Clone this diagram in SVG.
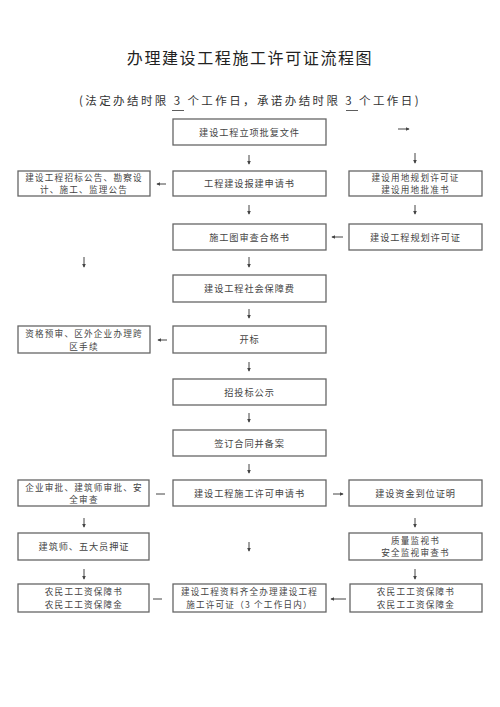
<svg xmlns="http://www.w3.org/2000/svg" width="500" height="707" viewBox="0 0 500 707">
<defs>
<marker id="ah" viewBox="0 0 6 6" refX="5" refY="3" markerWidth="4" markerHeight="4" orient="auto" markerUnits="userSpaceOnUse">
<path d="M0,0 L6,3 L0,6 z" fill="#444"/>
</marker>
<style>
.box{fill:#fff;stroke:#666;stroke-width:1.3}
.t{font-family:"Noto Sans CJK SC","Liberation Sans",sans-serif;font-size:9.2px;fill:#444;text-anchor:middle;letter-spacing:0.9px}
.t2{font-family:"Noto Sans CJK SC","Liberation Sans",sans-serif;font-size:8.6px;fill:#444;text-anchor:middle;letter-spacing:1.2px}
.ttl{font-family:"Noto Sans CJK SC","Liberation Serif",sans-serif;font-size:16px;fill:#222;text-anchor:middle;letter-spacing:1.6px}
.sub{font-family:"Noto Sans CJK SC","Liberation Serif",sans-serif;font-size:11.5px;fill:#333;text-anchor:middle;letter-spacing:2.4px}
.c{stroke:#444;stroke-width:1;fill:none}
.ca{stroke:#444;stroke-width:1;fill:none;marker-end:url(#ah)}
</style>
</defs>
<rect width="500" height="707" fill="#fff"/>
<text class="ttl" x="250" y="64">办理建设工程施工许可证流程图</text>
<text class="sub" x="250" y="105">(法定办结时限 3 个工作日，承诺办结时限 3 个工作日)</text>
<line x1="172" y1="110.5" x2="184" y2="110.5" stroke="#333" stroke-width="0.8"/>
<line x1="346" y1="110.5" x2="358" y2="110.5" stroke="#333" stroke-width="0.8"/>

<g id="n1"><rect class="box" x="173" y="119" width="153" height="26"/><text class="t" x="249.5" y="135.5">建设工程立项批复文件</text></g>
<g id="n2l"><rect class="box" x="18" y="171" width="132" height="25"/><text class="t2" x="84" y="181">建设工程招标公告、勘察设</text><text class="t2" x="84" y="192.5">计、施工、监理公告</text></g>
<g id="n2"><rect class="box" x="173" y="171" width="153" height="25"/><text class="t" x="249.5" y="187">工程建设报建申请书</text></g>
<g id="n2r"><rect class="box" x="349" y="171" width="133" height="25"/><text class="t2" x="415.5" y="181">建设用地规划许可证</text><text class="t2" x="415.5" y="192.5">建设用地批准书</text></g>
<g id="n3"><rect class="box" x="173" y="224" width="153" height="26"/><text class="t" x="249.5" y="240.5">施工图审查合格书</text></g>
<g id="n3r"><rect class="box" x="349" y="224" width="133" height="26"/><text class="t" x="415.5" y="240.5">建设工程规划许可证</text></g>
<g id="n4"><rect class="box" x="173" y="275" width="153" height="27"/><text class="t" x="249.5" y="292">建设工程社会保障费</text></g>
<g id="n5l"><rect class="box" x="18" y="326" width="132" height="27"/><text class="t2" x="84" y="337">资格预审、区外企业办理跨</text><text class="t2" x="84" y="349.5">区手续</text></g>
<g id="n5"><rect class="box" x="173" y="326" width="153" height="27"/><text class="t" x="249.5" y="343">开标</text></g>
<g id="n6"><rect class="box" x="173" y="379" width="153" height="26"/><text class="t" x="249.5" y="395.5">招投标公示</text></g>
<g id="n7"><rect class="box" x="173" y="430" width="153" height="26"/><text class="t" x="249.5" y="446.5">签订合同并备案</text></g>
<g id="n8l"><rect class="box" x="18" y="480" width="131" height="26"/><text class="t2" x="84" y="490.5">企业审批、建筑师审批、安</text><text class="t2" x="84" y="502.5">全审查</text></g>
<g id="n8"><rect class="box" x="173" y="480" width="153" height="26"/><text class="t" x="249.5" y="496.5">建设工程施工许可申请书</text></g>
<g id="n8r"><rect class="box" x="349" y="480" width="133" height="26"/><text class="t" x="415.5" y="496.5">建设资金到位证明</text></g>
<g id="n9l"><rect class="box" x="18" y="533" width="131" height="27"/><text class="t" x="84" y="550">建筑师、五大员押证</text></g>
<g id="n9r"><rect class="box" x="349" y="533" width="133" height="27"/><text class="t2" x="415.5" y="543.5">质量监视书</text><text class="t2" x="415.5" y="556">安全监视审查书</text></g>
<g id="n10l"><rect class="box" x="18" y="584" width="131" height="28"/><text class="t2" x="84" y="595">农民工工资保障书</text><text class="t2" x="84" y="608">农民工工资保障金</text></g>
<g id="n10"><rect class="box" x="173" y="584" width="153" height="28"/><text class="t2" x="249.5" y="595">建设工程资料齐全办理建设工程</text><text class="t2" x="249.5" y="608">施工许可证（3 个工作日内）</text></g>
<g id="n10r"><rect class="box" x="350" y="584" width="132" height="28"/><text class="t2" x="416" y="595">农民工工资保障书</text><text class="t2" x="416" y="608">农民工工资保障金</text></g>

<g id="connectors">
<line class="ca" x1="398" y1="129" x2="409" y2="129"/>
<line class="ca" x1="249" y1="155" x2="249" y2="164"/>
<line class="ca" x1="415" y1="153" x2="415" y2="163"/>
<line class="ca" x1="166" y1="184" x2="157" y2="184"/>
<line class="ca" x1="249" y1="205" x2="249" y2="214"/>
<line class="ca" x1="415" y1="205" x2="415" y2="214"/>
<line class="ca" x1="343" y1="237" x2="332" y2="237"/>
<line class="ca" x1="84" y1="257" x2="84" y2="267"/>
<line class="ca" x1="249" y1="257" x2="249" y2="267"/>
<line class="ca" x1="249" y1="309" x2="249" y2="318"/>
<line class="ca" x1="167" y1="340" x2="158" y2="340"/>
<line class="ca" x1="249" y1="362" x2="249" y2="371"/>
<line class="ca" x1="249" y1="413" x2="249" y2="422"/>
<line class="ca" x1="249" y1="464" x2="249" y2="473"/>
<line class="c" x1="156" y1="494" x2="165" y2="494"/>
<line class="ca" x1="333" y1="494" x2="343" y2="494"/>
<line class="ca" x1="84" y1="518" x2="84" y2="527"/>
<line class="ca" x1="415" y1="518" x2="415" y2="527"/>
<line class="ca" x1="249" y1="542" x2="249" y2="551"/>
<line class="ca" x1="84" y1="569" x2="84" y2="579"/>
<line class="ca" x1="415" y1="569" x2="415" y2="579"/>
<line class="c" x1="153" y1="599" x2="162" y2="599"/>
<line class="ca" x1="346" y1="599" x2="331" y2="599"/>
</g>
</svg>
